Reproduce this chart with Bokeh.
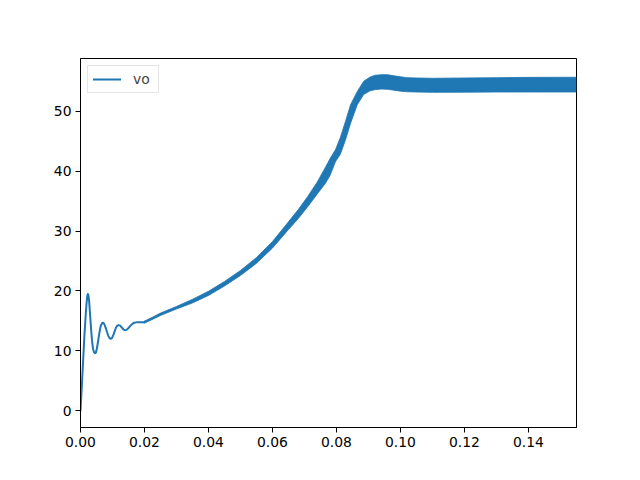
from bokeh.plotting import figure
from bokeh.models import Range1d, FixedTicker, PrintfTickFormatter, Legend, LegendItem
from bokeh.embed import file_html
from bokeh.resources import INLINE

# start-up transient of vo (single thin trace)
t_start = [0, 0.0004, 0.0008, 0.0012, 0.0016, 0.0019, 0.0021, 0.0023, 0.0025,
           0.0027, 0.0030, 0.0033, 0.0036, 0.0039, 0.0042, 0.0045, 0.0048,
           0.0051, 0.0055, 0.0059, 0.0063, 0.0067, 0.0071, 0.0075, 0.0079,
           0.0083, 0.0087, 0.0091, 0.0095, 0.0099, 0.0103, 0.0107, 0.0111,
           0.0115, 0.0119, 0.0124, 0.0129, 0.0134, 0.0139, 0.0144, 0.0150,
           0.0156, 0.0162, 0.0168, 0.0175, 0.0185, 0.0198]
vo_start = [0, 4.0, 8.2, 12.3, 15.8, 18.0, 19.1, 19.5, 19.2,
            18.3, 16.0, 13.7, 11.7, 10.4, 9.8, 9.6, 9.7,
            10.3, 11.6, 13.0, 14.1, 14.6, 14.7, 14.4, 13.8,
            13.1, 12.5, 12.1, 12.0, 12.2, 12.7, 13.3, 13.9,
            14.2, 14.3, 14.2, 13.9, 13.6, 13.45, 13.5, 13.8,
            14.2, 14.5, 14.7, 14.75, 14.75, 14.75]

# ripple band of vo: time, upper and lower visible edges
t_band = [0.0198, 0.022, 0.025, 0.030, 0.035, 0.040, 0.045, 0.050, 0.055, 0.060,
          0.065, 0.068, 0.071, 0.074, 0.0766, 0.078, 0.0797, 0.0812, 0.0828, 0.0844,
          0.0865, 0.0885, 0.0905, 0.092, 0.094, 0.096, 0.098, 0.100, 0.102, 0.105,
          0.110, 0.120, 0.130, 0.140, 0.155]
vo_upper = [14.92, 15.48, 16.3, 17.42, 18.6, 19.95, 21.58, 23.42, 25.58, 28.25,
            31.55, 33.55, 35.75, 38.2, 40.7, 42.1, 43.6, 45.6, 48.3, 51.1,
            53.3, 55.0, 55.7, 56.0, 56.1, 56.1, 55.9, 55.75, 55.6, 55.55,
            55.5, 55.55, 55.6, 55.65, 55.67]
vo_lower = [14.58, 15.12, 15.9, 16.98, 18.0, 19.25, 20.82, 22.58, 24.62, 27.15,
            30.25, 32.05, 34.05, 36.2, 38.0, 39.3, 41.6, 42.8, 45.2, 48.0,
            51.1, 52.8, 53.4, 53.6, 53.7, 53.65, 53.5, 53.35, 53.25, 53.2,
            53.15, 53.17, 53.2, 53.2, 53.2]

x_ticks = [0.00, 0.02, 0.04, 0.06, 0.08, 0.10, 0.12, 0.14]
y_ticks = [0, 10, 20, 30, 40, 50]

blue = "#1f77b4"
font = "DejaVu Sans"

p = figure(frame_width=496, frame_height=369,
           min_border_left=80, min_border_right=56,
           min_border_top=58, min_border_bottom=45,
           x_range=Range1d(0, 0.155), y_range=Range1d(-2.8, 58.8),
           output_backend="svg", toolbar_location=None)

p.varea(x=t_band, y1=vo_lower, y2=vo_upper, fill_color=blue, fill_alpha=1.0)
p.line(t_band, vo_upper, line_color=blue, line_width=0.8, line_join="round")
p.line(t_band, vo_lower, line_color=blue, line_width=0.8, line_join="round")
r_start = p.line(t_start, vo_start, line_color=blue, line_width=2,
                 line_join="round", line_cap="round")

p.xgrid.visible = False
p.ygrid.visible = False
p.outline_line_color = "black"
p.outline_line_width = 1
p.background_fill_color = "white"
p.border_fill_color = "white"

for ax in (p.xaxis[0], p.yaxis[0]):
    ax.axis_line_color = "black"
    ax.major_tick_line_color = "black"
    ax.major_tick_out = 5
    ax.major_tick_in = 0
    ax.minor_tick_line_color = None
    ax.major_label_text_font = font
    ax.major_label_text_font_size = "13.9px"
    ax.major_label_text_color = "black"
    ax.major_label_standoff = 4

p.xaxis[0].ticker = FixedTicker(ticks=x_ticks)
p.xaxis[0].formatter = PrintfTickFormatter(format="%.2f")
p.yaxis[0].ticker = FixedTicker(ticks=y_ticks)

legend = Legend(items=[LegendItem(label="vo", renderers=[r_start])],
                location="top_left", margin=7, padding=5, spacing=0,
                glyph_width=28, glyph_height=14, label_height=14,
                label_standoff=12, label_text_font=font,
                label_text_font_size="13.9px",
                border_line_color="#cccccc", border_line_width=1,
                background_fill_color="white", background_fill_alpha=0.8)
p.add_layout(legend)

open("out.html", "w").write(file_html(p, INLINE))
